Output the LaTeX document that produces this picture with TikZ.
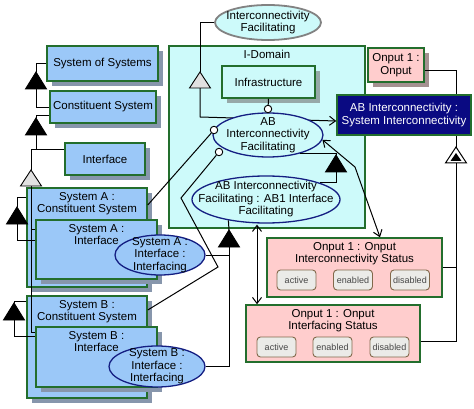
\documentclass[tikz,border=0pt]{standalone}
\usepackage{fontspec}
\setmainfont{Liberation Sans}
\usetikzlibrary{arrows.meta,shadows,calc,shapes.geometric}
\definecolor{bfill}{RGB}{155,200,248}
\definecolor{bshadow}{RGB}{135,150,172}
\definecolor{gbord}{RGB}{35,110,45}
\definecolor{cfill}{RGB}{205,250,250}
\definecolor{cshadow}{RGB}{150,168,168}
\definecolor{pfill}{RGB}{255,205,205}
\definecolor{pshadow}{RGB}{165,145,145}
\definecolor{navyb}{RGB}{10,10,130}
\definecolor{ebord}{RGB}{20,30,130}
\definecolor{btnfill}{RGB}{235,235,232}
\definecolor{btnbord}{RGB}{130,105,75}
\definecolor{btntext}{RGB}{70,70,70}
\definecolor{graybord}{RGB}{130,130,130}
\definecolor{trigray}{RGB}{225,225,225}
\newcommand\mytri[2]{\path[draw=black,fill=#2,line width=0.9pt] (#1) -- ++(-10.5,17) -- ++(21,0) -- cycle;}
\newcommand\mytriw[1]{\path[draw=black,fill=white,line width=1pt] (#1) -- ++(-10.5,16) -- ++(21,0) -- cycle;
  \path[fill=black] ($(#1)+(0,6)$) -- ++(-5.5,8) -- ++(11,0) -- cycle;}
\begin{document}
\begin{tikzpicture}[x=1pt,y=-1pt,
  txt/.style={font=\fontsize{11.5}{12.5}\selectfont, align=center, inner sep=0pt, text=black},
  lbl/.style={txt, inner sep=2pt},
  box/.style={txt, draw=gbord, line width=1.5pt},
  bluebox/.style={box, fill=bfill, general shadow={fill=bshadow, shadow xshift=5pt, shadow yshift=-5pt}},
  cyanbox/.style={box, fill=cfill, general shadow={fill=cshadow, shadow xshift=5pt, shadow yshift=-5pt}},
  pinkbox/.style={box, fill=pfill, general shadow={fill=pshadow, shadow xshift=5pt, shadow yshift=-5pt}},
  statbox/.style={box, fill=pfill},
  ell/.style={ellipse, draw=ebord, line width=1.3pt, inner sep=0pt},
  btn/.style={rounded corners=3.5pt, draw=btnbord, fill=btnfill, line width=0.9pt, minimum width=39pt, minimum height=20pt, inner sep=0pt, font=\fontsize{9}{10}\selectfont, text=btntext},
  dot/.style={circle, draw=black, fill=white, line width=0.9pt, inner sep=0pt, minimum size=7.5pt},
  conn/.style={draw=black, line width=1pt},
  barb/.style={-{Straight Barb[length=6pt,width=9pt]}},
  dbarb/.style={{Straight Barb[length=6pt,width=9pt]}-{Straight Barb[length=6pt,width=9pt]}}
]
\useasboundingbox (0,0) rectangle (474,409);
\fill[white] (0,0) rectangle (474,409);

% ---------- left column ----------
\node[bluebox, minimum width=111pt, minimum height=35pt] (sos) at (102.5,63.5) {System of Systems};
\node[bluebox, minimum width=106pt, minimum height=32pt] (cs) at (103,107) {Constituent System};
\node[bluebox, minimum width=80pt, minimum height=32pt] (iface) at (105,159) {Interface};

\node[bluebox, minimum width=120pt, minimum height=99pt,
  label={[lbl,anchor=north,yshift=-3pt]north:{System A :\\Constituent System}}] (sacs) at (87,237.5) {};
\node[bluebox, minimum width=121pt, minimum height=59pt,
  label={[lbl,anchor=north,yshift=-3pt]north:{System A :\\Interface}}] (saif) at (96.5,249.5) {};
\node[ell, fill=bfill, minimum width=90pt, minimum height=40pt] (saie) at (160,255) {};
\node[txt] (saiet) at (saie.center) {System A :\\Interface :\\Interfacing};

\node[bluebox, minimum width=120pt, minimum height=102pt,
  label={[lbl,anchor=north,yshift=-3pt]north:{System B :\\Constituent System}}] (sbcs) at (87,347) {};
\node[bluebox, minimum width=121pt, minimum height=60pt,
  label={[lbl,anchor=north,yshift=-3pt]north:{System B :\\Interface}}] (sbif) at (96.5,357) {};
\node[ell, fill=bfill, minimum width=96pt, minimum height=41pt] (sbie) at (157,366.5) {};
\node[txt] (sbiet) at (sbie.center) {System B :\\Interface :\\Interfacing};

% left connectors
\coordinate (a1) at (36,72);  \coordinate (b1) at (36,89);
\coordinate (a2) at (36,118); \coordinate (b2) at (36,135);
\coordinate (a3) at (31,170); \coordinate (b3) at (31,186);
\coordinate (a4) at (17,207); \coordinate (b4) at (17,224);
\coordinate (a5) at (14,303); \coordinate (b5) at (14,320);
\draw[conn] (sos.west) -| (a1);
\draw[conn] (b1) |- ($(cs.west)+(0,1)$);
\draw[conn] ($(cs.west)+(0,9)$) -| (a2);
\draw[conn] (b2) |- ($(iface.west)+(0,-9)$);
\draw[conn] (a3) |- ($(iface.west)+(0,-9)$);
\coordinate (sawp) at ($(saif.west)+(0,-20.5)$);
\draw[conn] (b3) |- ($(sbif.west)+(0,-25)$);
\draw[conn] (b3 |- sawp) -- (sawp);
\draw[conn] ($(sacs.west)+(0,-40.5)$) -| (a4);
\draw[conn] (b4) |- ($(saif.west)+(0,-9.5)$);
\draw[conn] ($(sbcs.west)+(0,-46)$) -| (a5);
\draw[conn] (b5) |- ($(sbif.west)+(0,-21)$);
\mytri{a1}{black}
\mytri{a2}{black}
\path[draw=black,fill=trigray,line width=0.9pt] (a3) -- ++(-10.5,16) -- ++(21,0) -- cycle;
\mytri{a4}{black}
\mytri{a5}{black}

% ---------- I-Domain ----------
\node[box, fill=cfill, minimum width=196pt, minimum height=182pt,
  label={[lbl,anchor=north,yshift=-3pt]north:{I-Domain}}] (idom) at (267,137) {};
\node[ell, draw=graybord, line width=1.8pt, fill=cfill, minimum width=106pt, minimum height=35pt] (icf) at (268,22.5) {};
\node[txt] (icft) at (icf.center) {Interconnectivity\\Facilitating};
\node[cyanbox, minimum width=93pt, minimum height=32pt] (infra) at (268.5,82) {Infrastructure};
\node[pinkbox, minimum width=56pt, minimum height=34pt] (onput) at (396,65) {Onput 1 :\\Onput};

% right vertical line (runs behind the dark box)
\coordinate (a8) at (456,147); \coordinate (b8) at (456,163);
\draw[conn] ($(onput.east)+(0,6)$) -| (a8);
\node[box, fill=navyb, text=white, minimum width=134pt, minimum height=40pt] (absi) at (404,115) {AB Interconnectivity :\\System Interconnectivity};

% generalization to Interconnectivity Facilitating and arrow to absi (behind ellipse)
\coordinate (a7) at (200,72); \coordinate (b7) at (200,88);
\draw[conn] (icf.west) -| (a7);
\draw[conn, barb] (b7) -- (200,117) -- ($(absi.west)+(0,6)$);
\path[draw=black,fill=trigray,line width=0.9pt] (a7) -- ++(-10.5,16) -- ++(21,0) -- cycle;

\node[ell, fill=cfill, minimum width=110pt, minimum height=44pt] (abif) at (268,135) {};
\node[txt] (abift) at (abif.center) {AB\\Interconnectivity\\Facilitating};
\node[ell, fill=cfill, minimum width=148pt, minimum height=47pt] (ab1) at (266,199.5) {};
\node[txt] (ab1t) at (ab1.center) {AB Interconnectivity\\Facilitating : AB1 Interface\\Facilitating};

% ---------- status boxes ----------
\node[statbox, minimum width=175pt, minimum height=59pt,
  label={[lbl,anchor=north,yshift=-3pt]north:{Onput 1 : Onput\\Interconnectivity Status}}] (ics) at (354.5,267.5) {};
\node[btn] (icsa) at (296.5,280) {active};
\node[btn] (icse) at (353,280) {enabled};
\node[btn] (icsd) at (410,280) {disabled};
\node[statbox, minimum width=174pt, minimum height=57pt,
  label={[lbl,anchor=north,yshift=-3pt]north:{Onput 1 : Onput\\Interfacing Status}}] (ifs) at (333,333.5) {};
\node[btn] (ifsa) at (276.5,347) {active};
\node[btn] (ifse) at (332.5,347) {enabled};
\node[btn] (ifsd) at (389.5,347) {disabled};

% ---------- connectors in the middle ----------
\node[dot] (c1) at (268,109) {};
\draw[conn] (infra.south) -- (c1);
\node[dot] (c2) at (214,130) {};
\draw[conn] ($(sacs.east)+(0,-32.5)$) -- (c2);
\node[dot] (c3) at (219,152) {};
\draw[conn] ($(sbcs.east)+(0,-37)$) -- (218,267) -- (181,198) -- (c3);

\coordinate (a6) at (336,155); \coordinate (b6) at (336,172);
\draw[conn] (abif.-30) -| (a6);
\draw[conn] (b6) |- (ab1.17);
\mytri{a6}{black}

\coordinate (a9) at (229,230); \coordinate (b9) at (229,247);
\draw[conn] (ab1.-151) -- (a9);
\draw[conn] (saie.east) -| (b9);
\draw[conn] (sbie.east) -| (b9);
\mytri{a9}{black}

\draw[conn, dbarb] (abif.-5) -- (355,167) -- ($(ics.north)+(25.5,0)$);
\coordinate (ab1x) at ($(ab1.south)+(-9,1)$);
\draw[conn, dbarb] (ab1x) -- (ab1x |- ifs.north);

% right side
\draw[conn] (b8) |- ($(ifs.east)+(0,7.5)$);
\draw[conn] (ics.east) -- (ics.east -| b8);
\mytriw{a8}
\end{tikzpicture}
\end{document}
